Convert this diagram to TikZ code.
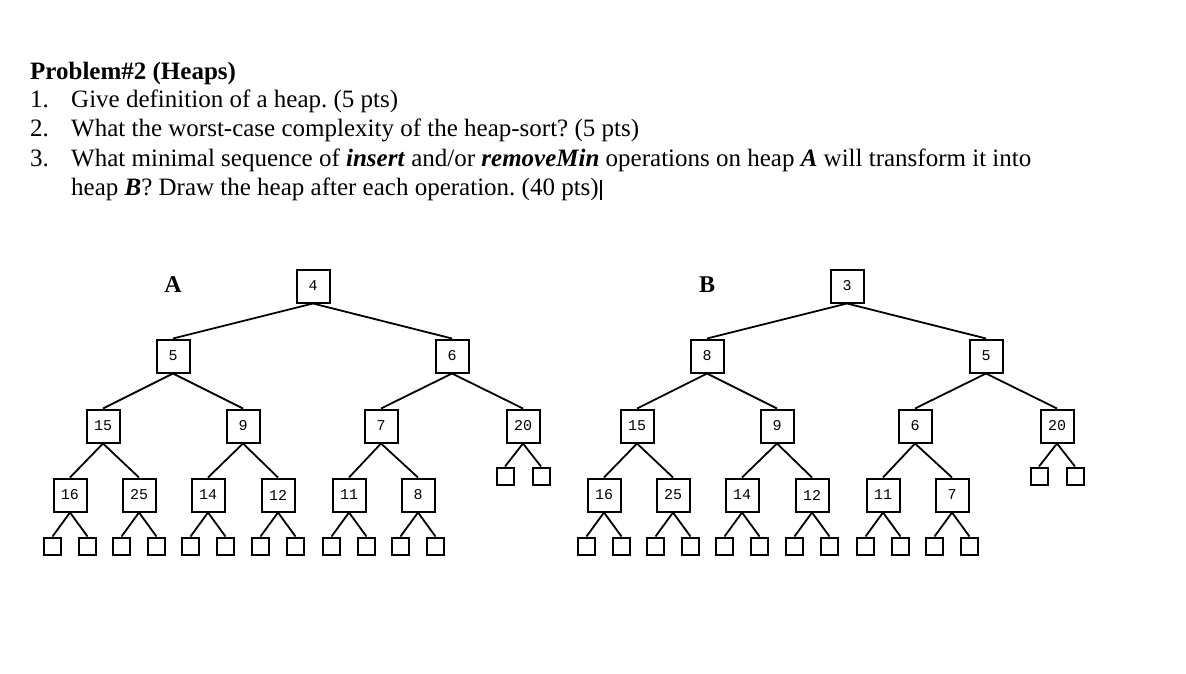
\documentclass[tikz,border=0pt]{standalone}
\usepackage{fontspec}
\setmainfont{Liberation Serif}
\setmonofont{Liberation Mono}
\begin{document}
\frenchspacing
\begin{tikzpicture}[x=1pt,y=-1pt,
  hb/.style={draw,line width=2pt,minimum width=33pt,minimum height=33pt,inner sep=0pt,font=\ttfamily\fontsize{15}{15}\selectfont},
  lf/.style={draw,line width=2pt,minimum width=17pt,minimum height=17pt,inner sep=0pt},
  ed/.style={line width=1.8pt},
  tx/.style={anchor=base west,inner sep=0pt,font=\fontsize{25}{29}\selectfont}]
\useasboundingbox (0,0) rectangle (1186,674);
\node[tx] (t0) at (30,80) {\textbf{Problem\#2 (Heaps)}};
\node[tx] (t1n) at (30,108) {1.};
\node[tx] (t1) at (71,108) {Give definition of a heap. (5 pts)};
\node[tx] (t2n) at (30,137) {2.};
\node[tx] (t2) at (71,137) {What the worst-case complexity of the heap-sort? (5 pts)};
\node[tx] (t3n) at (30,166) {3.};
\node[tx] (t3) at (71,166) {What minimal sequence of \textbf{\textit{insert}} and/or \textbf{\textit{removeMin}} operations on heap \textbf{\textit{A}} will transform it into};
\node[tx] (t4) at (71,195) {heap \textbf{\textit{B}}? Draw the heap after each operation. (40 pts)};
\draw[line width=2pt] (t4.base east)++(2,5) coordinate (c1) -- ++(0,-20) coordinate (c2);
\foreach \o/\nm/\r/\a/\b/\c/\d/\e/\f/\g/\h/\i/\j/\k/\l in
  {0/A/4/5/6/15/9/7/20/16/25/14/12/11/8, 534/B/3/8/5/15/9/6/20/16/25/14/12/11/7}{
  \begin{scope}[xshift=\o]
  \node[font=\bfseries\fontsize{24}{24}\selectfont] (lab\nm) at (173,285) {\nm};
  \node[hb] (r\nm) at (313,286) {\r};
  \node[hb] (a\nm) at (173,356) {\a};
  \node[hb] (b\nm) at (452,356) {\b};
  \node[hb] (c\nm) at (103,426) {\c};
  \node[hb] (d\nm) at (243,426) {\d};
  \node[hb] (e\nm) at (381,426) {\e};
  \node[hb] (f\nm) at (523,426) {\f};
  \node[hb] (g\nm) at (70,495) {\g};
  \node[hb] (h\nm) at (139,495) {\h};
  \node[hb] (i\nm) at (208,495) {\i};
  \node[hb] (j\nm) at (278,495) {\j};
  \node[hb] (k\nm) at (349,495) {\k};
  \node[hb] (l\nm) at (418,495) {\l};
  \draw[ed] (r\nm.south) -- (a\nm.north);
  \draw[ed] (r\nm.south) -- (b\nm.north);
  \draw[ed] (a\nm.south) -- (c\nm.north);
  \draw[ed] (a\nm.south) -- (d\nm.north);
  \draw[ed] (b\nm.south) -- (e\nm.north);
  \draw[ed] (b\nm.south) -- (f\nm.north);
  \draw[ed] (c\nm.south) -- (g\nm.north);
  \draw[ed] (c\nm.south) -- (h\nm.north);
  \draw[ed] (d\nm.south) -- (i\nm.north);
  \draw[ed] (d\nm.south) -- (j\nm.north);
  \draw[ed] (e\nm.south) -- (k\nm.north);
  \draw[ed] (e\nm.south) -- (l\nm.north);
  \node[lf] (fL\nm) at (505,476) {};
  \node[lf] (fR\nm) at (541,476) {};
  \draw[ed] (f\nm.south) -- (fL\nm.north);
  \draw[ed] (f\nm.south) -- (fR\nm.north);
  \foreach \p in {g,h,i,j,k,l}{
    \node[lf] (\p L\nm) at ([xshift=-17.5,yshift=-51]\p\nm) {};
    \node[lf] (\p R\nm) at ([xshift=17.5,yshift=-51]\p\nm) {};
    \draw[ed] (\p\nm.south) -- (\p L\nm.north);
    \draw[ed] (\p\nm.south) -- (\p R\nm.north);
  }
  \end{scope}}
\end{tikzpicture}
\end{document}
